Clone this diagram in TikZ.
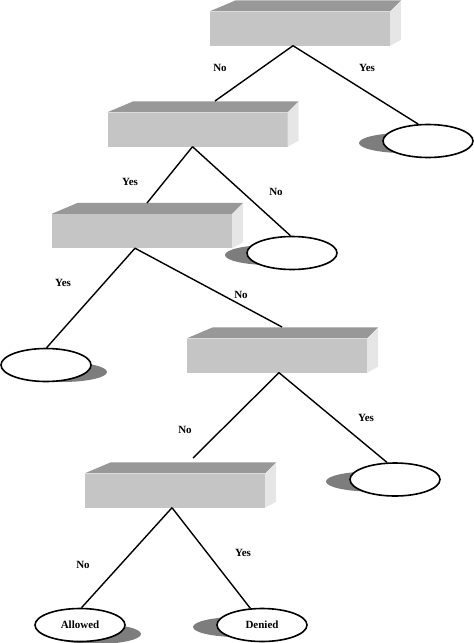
\documentclass[tikz,border=0pt]{standalone}
\usepackage{fontspec}
\setmainfont{Liberation Serif}
\usetikzlibrary{shapes.geometric,calc}
\definecolor{topc}{RGB}{152,152,152}
\definecolor{frontc}{RGB}{197,197,197}
\definecolor{sidec}{RGB}{230,230,230}
\definecolor{shadc}{RGB}{125,125,125}
\tikzset{
  boxfront/.style={rectangle,fill=frontc,minimum width=180pt,minimum height=34pt,inner sep=0pt},
  leaf/.style={ellipse,draw=black,line width=1.6pt,fill=white,minimum width=90pt,minimum height=33pt,inner sep=0pt,
     font=\bfseries\fontsize{11}{13}\selectfont},
  shad/.style={ellipse,fill=shadc,minimum width=90pt,minimum height=20pt,inner sep=0pt},
  lab/.style={font=\bfseries\fontsize{11}{13}\selectfont,inner sep=0pt},
  conn/.style={line width=1.4pt,black}
}
\newcommand\boxfaces[1]{%
  \fill[topc] (#1.north west) -- ([shift={(26pt,11pt)}]#1.north west) -- ([shift={(11pt,11pt)}]#1.north east) -- (#1.north east) -- cycle;
  \fill[sidec] (#1.north east) -- ([shift={(11pt,11pt)}]#1.north east) -- ([shift={(11pt,6pt)}]#1.south east) -- (#1.south east) -- cycle;}
\begin{document}
\begin{tikzpicture}[x=1pt,y=-1pt]
\useasboundingbox (0,0) rectangle (474,643);
% boxes
\node[boxfront] (b1) at (300,28.5) {};
\node[boxfront] (b2) at (197.5,129.5) {};
\node[boxfront] (b3) at (142,231) {};
\node[boxfront] (b4) at (277,355.5) {};
\node[boxfront] (b5) at (175,490.5) {};
\boxfaces{b1}\boxfaces{b2}\boxfaces{b3}\boxfaces{b4}\boxfaces{b5}
% shadows
\node[shad] (s1) at (404,143) {};
\node[shad] (s2) at (270,255) {};
\node[shad] (s3) at (62,372) {};
\node[shad] (s4) at (371,481.5) {};
\node[shad] (s5) at (96,634) {};
\node[shad] (s6) at (238,627) {};
% leaves
\node[leaf] (e1) at (428,141) {};
\node[leaf] (e2) at (292,253) {};
\node[leaf] (e3) at (46,365) {};
\node[leaf] (e4) at (395,479.5) {};
\node[leaf] (e5) at (80,625) {Allowed};
\node[leaf] (e6) at (262,625) {Denied};
% connection points
\coordinate (a1) at ([xshift=-7pt]b1.south);
\coordinate (a2) at ([xshift=-5pt]b2.south);
\coordinate (a3) at ([xshift=-7pt]b3.south);
\coordinate (a4) at ([xshift=2pt]b4.south);
\coordinate (a5) at ([xshift=-3pt]b5.south);
\coordinate (t2) at (215,101);
\coordinate (t3) at (147,203);
\coordinate (t4) at (282,327);
\coordinate (t5) at (193,458);
% connectors
\draw[conn] (a1) -- (t2);
\draw[conn] (a1) -- (e1.120);
\draw[conn] (a2) -- (t3);
\draw[conn] (a2) -- (e2.95);
\draw[conn] (a3) -- (e3.88);
\draw[conn] (a3) -- (t4);
\draw[conn] (a4) -- (t5);
\draw[conn] (a4) -- (e4.115);
\draw[conn] (a5) -- (e5.85);
\draw[conn] (a5) -- (e6.125);
% labels
\node[lab] (l1) at (220,68) {No};
\node[lab] (l2) at (367,68) {Yes};
\node[lab] (l3) at (130,182) {Yes};
\node[lab] (l4) at (276,192) {No};
\node[lab] (l5) at (63,283) {Yes};
\node[lab] (l6) at (241,295) {No};
\node[lab] (l7) at (185,430) {No};
\node[lab] (l8) at (366,418) {Yes};
\node[lab] (l9) at (83,565) {No};
\node[lab] (l10) at (243,553) {Yes};
\end{tikzpicture}
\end{document}
